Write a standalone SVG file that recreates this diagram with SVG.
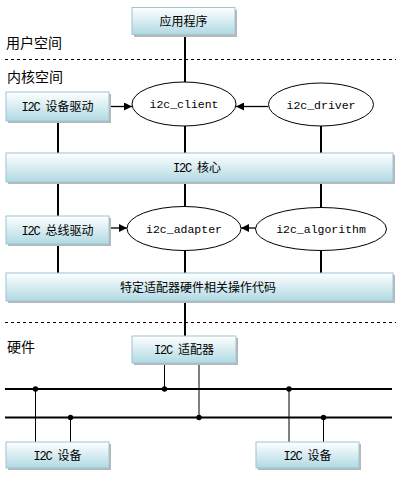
<svg xmlns="http://www.w3.org/2000/svg" width="402" height="483" viewBox="0 0 402 483">
<defs>
<linearGradient id="g" x1="0" y1="0" x2="0" y2="1">
<stop offset="0" stop-color="#ffffff"/>
<stop offset="1" stop-color="#b0d9e3"/>
</linearGradient>
<marker id="ah" viewBox="0 0 8 8" refX="8" refY="4" markerWidth="8" markerHeight="8" markerUnits="userSpaceOnUse" orient="auto">
<path d="M0,0 L8,4 L0,8 Z" fill="#000"/>
</marker>
<style>
.box{fill:url(#g);stroke:#9cc6d2;stroke-width:1}
.sh{fill:#b8b8b8}
.ell{fill:#fff;stroke:#000;stroke-width:1}
.t{font-family:"Liberation Mono","Noto Sans CJK SC",monospace;font-size:12px;fill:#000;text-anchor:middle}
.l{letter-spacing:-1.2px}
.te{font-family:"Liberation Mono",monospace;font-size:11.5px;fill:#000;text-anchor:middle}
.lbl{font-family:"Noto Sans CJK SC",sans-serif;font-size:14px;fill:#000}
.thick{stroke:#000;stroke-width:2;fill:none}
.thin{stroke:#000;stroke-width:1;fill:none}
.arr{stroke:#000;stroke-width:1.3;fill:none;marker-end:url(#ah)}
.dash{stroke:#000;stroke-width:1;stroke-dasharray:3,3}
</style>
</defs>

<g id="regions">
<line class="dash" x1="5" y1="59.5" x2="396" y2="59.5"/>
<line class="dash" x1="5" y1="322.5" x2="396" y2="322.5"/>
<text class="lbl" x="6" y="48">用户空间</text>
<text class="lbl" x="7" y="82">内核空间</text>
<text class="lbl" x="7" y="352">硬件</text>
</g>

<g id="connectors">
<line class="thick" x1="185" y1="35" x2="185" y2="82"/>
<line class="thick" x1="58" y1="121" x2="58" y2="153"/>
<line class="thick" x1="185" y1="126" x2="185" y2="153"/>
<line class="thick" x1="321" y1="126" x2="321" y2="153"/>
<line class="thick" x1="58" y1="182" x2="58" y2="216"/>
<line class="thick" x1="185" y1="182" x2="185" y2="207"/>
<line class="thick" x1="321" y1="182" x2="321" y2="208"/>
<line class="thick" x1="58" y1="244" x2="58" y2="273"/>
<line class="thick" x1="185" y1="250" x2="185" y2="273"/>
<line class="thick" x1="321" y1="250" x2="321" y2="273"/>
<line class="thick" x1="185" y1="301" x2="185" y2="336"/>
<line class="arr" x1="109" y1="106.5" x2="132" y2="106.5"/>
<line class="arr" x1="268" y1="106.5" x2="236" y2="106.5"/>
<line class="arr" x1="109" y1="228" x2="127" y2="228"/>
<line class="arr" x1="256" y1="228" x2="241" y2="228"/>
<line class="thick" x1="5" y1="389" x2="392" y2="389"/>
<line class="thick" x1="5" y1="417.5" x2="392" y2="417.5"/>
<line class="thin" x1="164.5" y1="363" x2="164.5" y2="389"/>
<line class="thin" x1="199" y1="363" x2="199" y2="417.5"/>
<line class="thin" x1="35.5" y1="389" x2="35.5" y2="442"/>
<line class="thin" x1="70.5" y1="417.5" x2="70.5" y2="442"/>
<line class="thin" x1="289" y1="389" x2="289" y2="442"/>
<line class="thin" x1="323.5" y1="417.5" x2="323.5" y2="442"/>
<circle cx="164.5" cy="389" r="2.7"/>
<circle cx="199" cy="417.5" r="2.7"/>
<circle cx="35.5" cy="389" r="2.7"/>
<circle cx="70.5" cy="417.5" r="2.7"/>
<circle cx="289" cy="389" r="2.7"/>
<circle cx="323.5" cy="417.5" r="2.7"/>
</g>

<g id="app">
<rect class="sh" x="134" y="10" width="103" height="27"/>
<rect class="box" x="132" y="7.5" width="103" height="27"/>
<text class="t" x="183.5" y="25.5">应用程序</text>
</g>
<g id="dev-driver">
<rect class="sh" x="8" y="94" width="103" height="29"/>
<rect class="box" x="6" y="92" width="103" height="29"/>
<text class="t" x="57.5" y="111"><tspan class="l">I2C </tspan>设备驱动</text>
</g>
<g id="i2c_client">
<ellipse class="ell" cx="184" cy="104" rx="52" ry="22"/>
<text class="te" x="184" y="108">i2c_client</text>
</g>
<g id="i2c_driver">
<ellipse class="ell" cx="321" cy="104.5" rx="52.5" ry="21.5"/>
<text class="te" x="321" y="108.5">i2c_driver</text>
</g>
<g id="core">
<rect class="sh" x="8" y="155" width="387" height="29"/>
<rect class="box" x="6" y="153" width="387" height="29"/>
<text class="t" x="197" y="172"><tspan class="l">I2C </tspan>核心</text>
</g>
<g id="bus-driver">
<rect class="sh" x="8" y="218" width="103" height="28"/>
<rect class="box" x="6" y="216" width="103" height="28"/>
<text class="t" x="57.5" y="234.5"><tspan class="l">I2C </tspan>总线驱动</text>
</g>
<g id="i2c_adapter">
<ellipse class="ell" cx="184" cy="228.5" rx="57" ry="22"/>
<text class="te" x="184" y="232.5">i2c_adapter</text>
</g>
<g id="i2c_algorithm">
<ellipse class="ell" cx="321" cy="229" rx="65.5" ry="21.5"/>
<text class="te" x="321" y="233">i2c_algorithm</text>
</g>
<g id="hw-code">
<rect class="sh" x="8" y="275" width="387" height="28"/>
<rect class="box" x="6" y="273" width="387" height="28"/>
<text class="t" x="198" y="291.5">特定适配器硬件相关操作代码</text>
</g>
<g id="adapter-hw">
<rect class="sh" x="134" y="338" width="104" height="27"/>
<rect class="box" x="132" y="336" width="104" height="27"/>
<text class="t" x="184" y="354"><tspan class="l">I2C </tspan>适配器</text>
</g>
<g id="device1">
<rect class="sh" x="8" y="444" width="103" height="26"/>
<rect class="box" x="6" y="442" width="103" height="26"/>
<text class="t" x="57.5" y="459.5"><tspan class="l">I2C </tspan>设备</text>
</g>
<g id="device2">
<rect class="sh" x="258" y="444" width="103" height="26"/>
<rect class="box" x="256" y="442" width="103" height="26"/>
<text class="t" x="307.5" y="459.5"><tspan class="l">I2C </tspan>设备</text>
</g>
</svg>
